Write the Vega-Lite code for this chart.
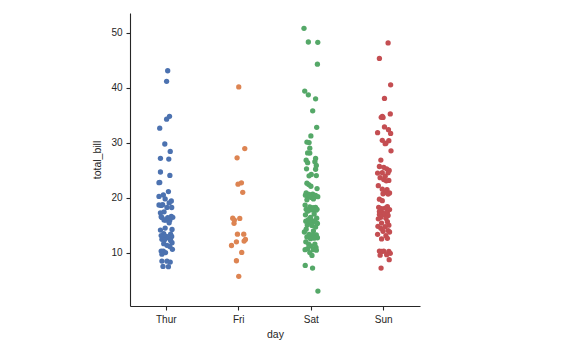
{
  "$schema": "https://vega.github.io/schema/vega-lite/v6.json",
  "width": 290,
  "height": 293,
  "autosize": {"type": "none"},
  "padding": {"left": 130, "top": 13, "right": 155, "bottom": 50},
  "background": "white",
  "config": {
    "view": {"stroke": null},
    "font": "Liberation Sans",
    "axis": {
      "grid": false,
      "domainColor": "#262626",
      "domainWidth": 1.1,
      "tickColor": "#262626",
      "tickWidth": 1.1,
      "tickSize": 4,
      "labelColor": "#262626",
      "labelFontSize": 10,
      "labelFont": "Liberation Sans",
      "titleColor": "#262626",
      "titleFontSize": 10.5,
      "titleFont": "Liberation Sans",
      "titleFontWeight": "normal"
    }
  },
  "data": {
    "values": [
      {"day": "Thur", "total_bill": 43.11, "jitter": 0.02},
      {"day": "Thur", "total_bill": 41.19, "jitter": 0.005},
      {"day": "Thur", "total_bill": 34.83, "jitter": 0.045},
      {"day": "Thur", "total_bill": 34.30, "jitter": 0.005},
      {"day": "Thur", "total_bill": 32.68, "jitter": -0.09},
      {"day": "Thur", "total_bill": 29.80, "jitter": -0.02},
      {"day": "Thur", "total_bill": 28.44, "jitter": 0.055},
      {"day": "Thur", "total_bill": 27.20, "jitter": -0.08},
      {"day": "Thur", "total_bill": 27.05, "jitter": 0.035},
      {"day": "Thur", "total_bill": 24.71, "jitter": -0.08},
      {"day": "Thur", "total_bill": 24.08, "jitter": 0.05},
      {"day": "Thur", "total_bill": 22.82, "jitter": -0.09},
      {"day": "Thur", "total_bill": 22.76, "jitter": -0.1},
      {"day": "Thur", "total_bill": 21.16, "jitter": 0.03},
      {"day": "Thur", "total_bill": 20.53, "jitter": -0.04},
      {"day": "Thur", "total_bill": 20.27, "jitter": -0.1},
      {"day": "Thur", "total_bill": 19.81, "jitter": -0.015},
      {"day": "Thur", "total_bill": 19.44, "jitter": 0.07},
      {"day": "Thur", "total_bill": 19.08, "jitter": 0.04},
      {"day": "Thur", "total_bill": 18.78, "jitter": -0.05},
      {"day": "Thur", "total_bill": 18.71, "jitter": -0.1},
      {"day": "Thur", "total_bill": 18.64, "jitter": -0.07},
      {"day": "Thur", "total_bill": 18.28, "jitter": 0.01},
      {"day": "Thur", "total_bill": 18.26, "jitter": 0.075},
      {"day": "Thur", "total_bill": 17.47, "jitter": -0.03},
      {"day": "Thur", "total_bill": 17.29, "jitter": -0.08},
      {"day": "Thur", "total_bill": 16.66, "jitter": 0.07},
      {"day": "Thur", "total_bill": 16.58, "jitter": -0.07},
      {"day": "Thur", "total_bill": 16.47, "jitter": 0.09},
      {"day": "Thur", "total_bill": 16.43, "jitter": -0.06},
      {"day": "Thur", "total_bill": 16.40, "jitter": 0.02},
      {"day": "Thur", "total_bill": 16.00, "jitter": -0.03},
      {"day": "Thur", "total_bill": 15.98, "jitter": 0.05},
      {"day": "Thur", "total_bill": 15.95, "jitter": -0.01},
      {"day": "Thur", "total_bill": 15.48, "jitter": 0.04},
      {"day": "Thur", "total_bill": 14.52, "jitter": -0.015},
      {"day": "Thur", "total_bill": 14.26, "jitter": 0.08},
      {"day": "Thur", "total_bill": 14.15, "jitter": -0.08},
      {"day": "Thur", "total_bill": 13.51, "jitter": -0.035},
      {"day": "Thur", "total_bill": 13.42, "jitter": 0.06},
      {"day": "Thur", "total_bill": 13.16, "jitter": -0.07},
      {"day": "Thur", "total_bill": 13.03, "jitter": 0.0},
      {"day": "Thur", "total_bill": 13.00, "jitter": 0.075},
      {"day": "Thur", "total_bill": 13.00, "jitter": -0.02},
      {"day": "Thur", "total_bill": 12.74, "jitter": 0.03},
      {"day": "Thur", "total_bill": 12.48, "jitter": -0.06},
      {"day": "Thur", "total_bill": 12.43, "jitter": -0.02},
      {"day": "Thur", "total_bill": 12.26, "jitter": 0.06},
      {"day": "Thur", "total_bill": 11.87, "jitter": 0.08},
      {"day": "Thur", "total_bill": 11.69, "jitter": -0.035},
      {"day": "Thur", "total_bill": 11.38, "jitter": 0.01},
      {"day": "Thur", "total_bill": 11.17, "jitter": 0.05},
      {"day": "Thur", "total_bill": 10.65, "jitter": 0.085},
      {"day": "Thur", "total_bill": 10.34, "jitter": -0.07},
      {"day": "Thur", "total_bill": 10.33, "jitter": -0.04},
      {"day": "Thur", "total_bill": 10.07, "jitter": -0.01},
      {"day": "Thur", "total_bill": 9.78, "jitter": -0.06},
      {"day": "Thur", "total_bill": 8.52, "jitter": -0.06},
      {"day": "Thur", "total_bill": 8.51, "jitter": 0.01},
      {"day": "Thur", "total_bill": 8.35, "jitter": 0.055},
      {"day": "Thur", "total_bill": 7.56, "jitter": -0.045},
      {"day": "Thur", "total_bill": 7.51, "jitter": 0.03},
      {"day": "Fri", "total_bill": 40.17, "jitter": 0.0},
      {"day": "Fri", "total_bill": 28.97, "jitter": 0.083},
      {"day": "Fri", "total_bill": 27.28, "jitter": -0.023},
      {"day": "Fri", "total_bill": 22.75, "jitter": 0.037},
      {"day": "Fri", "total_bill": 22.49, "jitter": -0.01},
      {"day": "Fri", "total_bill": 21.01, "jitter": 0.055},
      {"day": "Fri", "total_bill": 16.32, "jitter": -0.083},
      {"day": "Fri", "total_bill": 16.27, "jitter": 0.014},
      {"day": "Fri", "total_bill": 15.98, "jitter": -0.06},
      {"day": "Fri", "total_bill": 15.38, "jitter": -0.065},
      {"day": "Fri", "total_bill": 13.42, "jitter": -0.018},
      {"day": "Fri", "total_bill": 13.42, "jitter": 0.069},
      {"day": "Fri", "total_bill": 12.46, "jitter": 0.092},
      {"day": "Fri", "total_bill": 12.16, "jitter": 0.074},
      {"day": "Fri", "total_bill": 12.03, "jitter": -0.032},
      {"day": "Fri", "total_bill": 11.35, "jitter": -0.1},
      {"day": "Fri", "total_bill": 10.09, "jitter": 0.041},
      {"day": "Fri", "total_bill": 8.58, "jitter": -0.032},
      {"day": "Fri", "total_bill": 5.75, "jitter": 0.0},
      {"day": "Sat", "total_bill": 50.81, "jitter": -0.1},
      {"day": "Sat", "total_bill": 48.33, "jitter": -0.04},
      {"day": "Sat", "total_bill": 48.27, "jitter": 0.09},
      {"day": "Sat", "total_bill": 44.30, "jitter": 0.085},
      {"day": "Sat", "total_bill": 39.42, "jitter": -0.09},
      {"day": "Sat", "total_bill": 38.73, "jitter": -0.04},
      {"day": "Sat", "total_bill": 38.01, "jitter": 0.06},
      {"day": "Sat", "total_bill": 35.83, "jitter": 0.02},
      {"day": "Sat", "total_bill": 32.83, "jitter": 0.075},
      {"day": "Sat", "total_bill": 31.27, "jitter": -0.005},
      {"day": "Sat", "total_bill": 30.14, "jitter": -0.06},
      {"day": "Sat", "total_bill": 30.06, "jitter": -0.03},
      {"day": "Sat", "total_bill": 29.03, "jitter": -0.02},
      {"day": "Sat", "total_bill": 28.17, "jitter": -0.05},
      {"day": "Sat", "total_bill": 28.15, "jitter": -0.02},
      {"day": "Sat", "total_bill": 27.18, "jitter": 0.06},
      {"day": "Sat", "total_bill": 26.86, "jitter": -0.07},
      {"day": "Sat", "total_bill": 26.59, "jitter": 0.05},
      {"day": "Sat", "total_bill": 26.41, "jitter": -0.05},
      {"day": "Sat", "total_bill": 25.89, "jitter": 0.07},
      {"day": "Sat", "total_bill": 25.28, "jitter": -0.065},
      {"day": "Sat", "total_bill": 25.21, "jitter": 0.06},
      {"day": "Sat", "total_bill": 24.27, "jitter": 0.0},
      {"day": "Sat", "total_bill": 24.06, "jitter": 0.07},
      {"day": "Sat", "total_bill": 24.01, "jitter": -0.03},
      {"day": "Sat", "total_bill": 22.67, "jitter": -0.06},
      {"day": "Sat", "total_bill": 22.42, "jitter": -0.035},
      {"day": "Sat", "total_bill": 22.12, "jitter": -0.005},
      {"day": "Sat", "total_bill": 21.70, "jitter": 0.08},
      {"day": "Sat", "total_bill": 20.92, "jitter": -0.07},
      {"day": "Sat", "total_bill": 20.69, "jitter": 0.02},
      {"day": "Sat", "total_bill": 20.65, "jitter": -0.03},
      {"day": "Sat", "total_bill": 20.49, "jitter": -0.08},
      {"day": "Sat", "total_bill": 20.45, "jitter": 0.06},
      {"day": "Sat", "total_bill": 20.29, "jitter": 0.035},
      {"day": "Sat", "total_bill": 20.29, "jitter": -0.05},
      {"day": "Sat", "total_bill": 20.23, "jitter": 0.09},
      {"day": "Sat", "total_bill": 20.08, "jitter": 0.0},
      {"day": "Sat", "total_bill": 19.82, "jitter": 0.03},
      {"day": "Sat", "total_bill": 19.65, "jitter": -0.06},
      {"day": "Sat", "total_bill": 18.69, "jitter": -0.085},
      {"day": "Sat", "total_bill": 18.35, "jitter": -0.02},
      {"day": "Sat", "total_bill": 18.29, "jitter": 0.06},
      {"day": "Sat", "total_bill": 18.24, "jitter": 0.025},
      {"day": "Sat", "total_bill": 17.92, "jitter": -0.07},
      {"day": "Sat", "total_bill": 17.92, "jitter": 0.08},
      {"day": "Sat", "total_bill": 17.82, "jitter": -0.03},
      {"day": "Sat", "total_bill": 17.81, "jitter": 0.01},
      {"day": "Sat", "total_bill": 17.78, "jitter": 0.065},
      {"day": "Sat", "total_bill": 17.59, "jitter": -0.05},
      {"day": "Sat", "total_bill": 17.07, "jitter": 0.04},
      {"day": "Sat", "total_bill": 16.93, "jitter": -0.08},
      {"day": "Sat", "total_bill": 16.45, "jitter": -0.01},
      {"day": "Sat", "total_bill": 16.31, "jitter": 0.075},
      {"day": "Sat", "total_bill": 16.04, "jitter": -0.04},
      {"day": "Sat", "total_bill": 15.81, "jitter": 0.02},
      {"day": "Sat", "total_bill": 15.77, "jitter": -0.075},
      {"day": "Sat", "total_bill": 15.69, "jitter": 0.05},
      {"day": "Sat", "total_bill": 15.53, "jitter": -0.02},
      {"day": "Sat", "total_bill": 15.36, "jitter": 0.085},
      {"day": "Sat", "total_bill": 15.06, "jitter": -0.055},
      {"day": "Sat", "total_bill": 15.01, "jitter": 0.01},
      {"day": "Sat", "total_bill": 14.73, "jitter": 0.06},
      {"day": "Sat", "total_bill": 14.31, "jitter": -0.07},
      {"day": "Sat", "total_bill": 14.00, "jitter": 0.03},
      {"day": "Sat", "total_bill": 13.81, "jitter": -0.095},
      {"day": "Sat", "total_bill": 13.37, "jitter": -0.03},
      {"day": "Sat", "total_bill": 13.28, "jitter": 0.07},
      {"day": "Sat", "total_bill": 13.27, "jitter": 0.015},
      {"day": "Sat", "total_bill": 12.90, "jitter": -0.06},
      {"day": "Sat", "total_bill": 12.76, "jitter": 0.085},
      {"day": "Sat", "total_bill": 12.69, "jitter": 0.04},
      {"day": "Sat", "total_bill": 12.60, "jitter": -0.01},
      {"day": "Sat", "total_bill": 12.02, "jitter": -0.075},
      {"day": "Sat", "total_bill": 11.61, "jitter": 0.05},
      {"day": "Sat", "total_bill": 11.59, "jitter": -0.035},
      {"day": "Sat", "total_bill": 11.24, "jitter": 0.0},
      {"day": "Sat", "total_bill": 11.02, "jitter": 0.065},
      {"day": "Sat", "total_bill": 10.77, "jitter": -0.05},
      {"day": "Sat", "total_bill": 10.63, "jitter": 0.03},
      {"day": "Sat", "total_bill": 10.59, "jitter": -0.085},
      {"day": "Sat", "total_bill": 10.51, "jitter": 0.07},
      {"day": "Sat", "total_bill": 10.07, "jitter": -0.02},
      {"day": "Sat", "total_bill": 9.55, "jitter": 0.01},
      {"day": "Sat", "total_bill": 7.74, "jitter": -0.083},
      {"day": "Sat", "total_bill": 7.25, "jitter": 0.018},
      {"day": "Sat", "total_bill": 3.07, "jitter": 0.092},
      {"day": "Sun", "total_bill": 48.17, "jitter": 0.06},
      {"day": "Sun", "total_bill": 45.35, "jitter": -0.06},
      {"day": "Sun", "total_bill": 40.55, "jitter": 0.095},
      {"day": "Sun", "total_bill": 38.07, "jitter": 0.01},
      {"day": "Sun", "total_bill": 35.26, "jitter": 0.09},
      {"day": "Sun", "total_bill": 34.81, "jitter": -0.02},
      {"day": "Sun", "total_bill": 34.65, "jitter": -0.035},
      {"day": "Sun", "total_bill": 34.63, "jitter": -0.01},
      {"day": "Sun", "total_bill": 32.90, "jitter": 0.01},
      {"day": "Sun", "total_bill": 32.40, "jitter": 0.065},
      {"day": "Sun", "total_bill": 31.85, "jitter": -0.085},
      {"day": "Sun", "total_bill": 31.71, "jitter": 0.095},
      {"day": "Sun", "total_bill": 30.46, "jitter": -0.02},
      {"day": "Sun", "total_bill": 30.40, "jitter": 0.07},
      {"day": "Sun", "total_bill": 29.93, "jitter": 0.03},
      {"day": "Sun", "total_bill": 29.85, "jitter": 0.02},
      {"day": "Sun", "total_bill": 28.55, "jitter": 0.1},
      {"day": "Sun", "total_bill": 26.88, "jitter": -0.04},
      {"day": "Sun", "total_bill": 25.71, "jitter": -0.06},
      {"day": "Sun", "total_bill": 25.56, "jitter": 0.0},
      {"day": "Sun", "total_bill": 25.29, "jitter": 0.04},
      {"day": "Sun", "total_bill": 25.00, "jitter": 0.075},
      {"day": "Sun", "total_bill": 24.59, "jitter": -0.02},
      {"day": "Sun", "total_bill": 24.55, "jitter": 0.06},
      {"day": "Sun", "total_bill": 24.52, "jitter": -0.085},
      {"day": "Sun", "total_bill": 23.95, "jitter": 0.02},
      {"day": "Sun", "total_bill": 23.68, "jitter": -0.05},
      {"day": "Sun", "total_bill": 23.33, "jitter": 0.0},
      {"day": "Sun", "total_bill": 23.17, "jitter": 0.07},
      {"day": "Sun", "total_bill": 23.10, "jitter": 0.035},
      {"day": "Sun", "total_bill": 22.23, "jitter": -0.075},
      {"day": "Sun", "total_bill": 21.58, "jitter": -0.02},
      {"day": "Sun", "total_bill": 21.50, "jitter": 0.045},
      {"day": "Sun", "total_bill": 21.01, "jitter": 0.025},
      {"day": "Sun", "total_bill": 20.90, "jitter": 0.08},
      {"day": "Sun", "total_bill": 20.76, "jitter": -0.01},
      {"day": "Sun", "total_bill": 20.69, "jitter": 0.06},
      {"day": "Sun", "total_bill": 19.77, "jitter": -0.06},
      {"day": "Sun", "total_bill": 19.49, "jitter": -0.02},
      {"day": "Sun", "total_bill": 18.43, "jitter": 0.05},
      {"day": "Sun", "total_bill": 18.29, "jitter": -0.07},
      {"day": "Sun", "total_bill": 18.15, "jitter": 0.02},
      {"day": "Sun", "total_bill": 18.04, "jitter": -0.03},
      {"day": "Sun", "total_bill": 17.89, "jitter": 0.08},
      {"day": "Sun", "total_bill": 17.51, "jitter": -0.06},
      {"day": "Sun", "total_bill": 17.46, "jitter": 0.05},
      {"day": "Sun", "total_bill": 17.31, "jitter": -0.02},
      {"day": "Sun", "total_bill": 17.26, "jitter": 0.035},
      {"day": "Sun", "total_bill": 16.99, "jitter": 0.0},
      {"day": "Sun", "total_bill": 16.97, "jitter": -0.06},
      {"day": "Sun", "total_bill": 16.82, "jitter": 0.06},
      {"day": "Sun", "total_bill": 16.49, "jitter": -0.04},
      {"day": "Sun", "total_bill": 16.29, "jitter": 0.03},
      {"day": "Sun", "total_bill": 16.21, "jitter": -0.075},
      {"day": "Sun", "total_bill": 15.69, "jitter": 0.05},
      {"day": "Sun", "total_bill": 15.42, "jitter": -0.03},
      {"day": "Sun", "total_bill": 15.04, "jitter": 0.07},
      {"day": "Sun", "total_bill": 14.83, "jitter": -0.08},
      {"day": "Sun", "total_bill": 14.78, "jitter": 0.02},
      {"day": "Sun", "total_bill": 14.48, "jitter": -0.04},
      {"day": "Sun", "total_bill": 14.07, "jitter": 0.06},
      {"day": "Sun", "total_bill": 13.94, "jitter": -0.01},
      {"day": "Sun", "total_bill": 13.81, "jitter": 0.08},
      {"day": "Sun", "total_bill": 13.39, "jitter": -0.085},
      {"day": "Sun", "total_bill": 13.13, "jitter": 0.03},
      {"day": "Sun", "total_bill": 12.66, "jitter": 0.05},
      {"day": "Sun", "total_bill": 12.54, "jitter": -0.03},
      {"day": "Sun", "total_bill": 10.34, "jitter": -0.06},
      {"day": "Sun", "total_bill": 10.33, "jitter": 0.0},
      {"day": "Sun", "total_bill": 10.29, "jitter": 0.07},
      {"day": "Sun", "total_bill": 10.27, "jitter": -0.03},
      {"day": "Sun", "total_bill": 9.94, "jitter": 0.09},
      {"day": "Sun", "total_bill": 9.68, "jitter": 0.04},
      {"day": "Sun", "total_bill": 9.60, "jitter": -0.05},
      {"day": "Sun", "total_bill": 8.77, "jitter": 0.075},
      {"day": "Sun", "total_bill": 7.25, "jitter": -0.037}
    ]
  },
  "mark": {"type": "circle", "size": 28, "opacity": 1, "strokeWidth": 0},
  "encoding": {
    "x": {
      "field": "day",
      "type": "nominal",
      "sort": ["Thur", "Fri", "Sat", "Sun"],
      "scale": {"paddingInner": 0, "paddingOuter": 0},
      "axis": {"labelAngle": 0, "labelPadding": 4, "titlePadding": 5, "title": "day"}
    },
    "xOffset": {
      "field": "jitter",
      "type": "quantitative",
      "scale": {"domain": [-0.5, 0.5]}
    },
    "y": {
      "field": "total_bill",
      "type": "quantitative",
      "scale": {"domain": [0.36, 53.6], "nice": false, "zero": false},
      "axis": {"values": [10, 20, 30, 40, 50], "labelPadding": 4, "titlePadding": 8, "title": "total_bill"}
    },
    "color": {
      "field": "day",
      "type": "nominal",
      "sort": ["Thur", "Fri", "Sat", "Sun"],
      "scale": {"domain": ["Thur", "Fri", "Sat", "Sun"], "range": ["#4c72b0", "#dd8452", "#55a868", "#c44e52"]},
      "legend": null
    }
  }
}
